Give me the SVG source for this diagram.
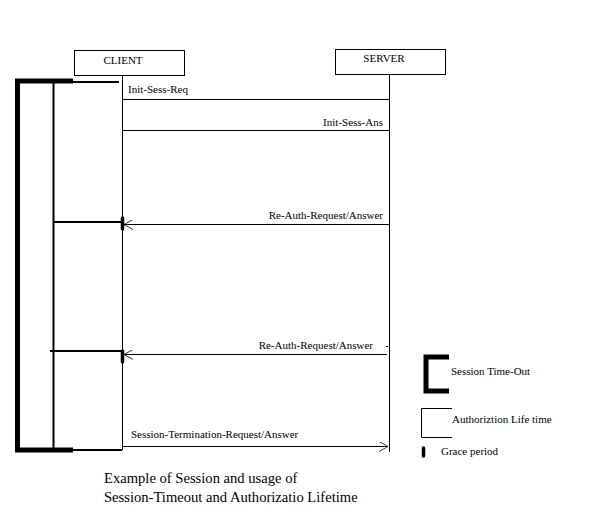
<svg xmlns="http://www.w3.org/2000/svg" width="591" height="531" viewBox="0 0 591 531">
<style>
.t{font-family:"Liberation Serif",serif;font-size:11px;fill:#000}
.cap{font-family:"Liberation Serif",serif;font-size:14.6px;fill:#000}
.box{fill:#fff;stroke:#000;stroke-width:1}
.ln{stroke:#000;stroke-width:1;fill:none}
.thick{stroke:#000;stroke-width:5;fill:none}
.med{stroke:#000;stroke-width:2;fill:none}
.grace{stroke:#000;stroke-width:3.5;stroke-linecap:round}
</style>
<defs>
<marker id="ah" markerWidth="10" markerHeight="10" refX="9" refY="5" orient="auto" markerUnits="userSpaceOnUse">
<path d="M0,0 L9,5 L0,10" fill="none" stroke="#000" stroke-width="0.8"/>
</marker>
</defs>
<rect width="591" height="531" fill="#fff"/>
<g id="client">
<rect class="box" x="74.5" y="50.5" width="110" height="25"/>
<text class="t" x="123" y="64" text-anchor="middle">CLIENT</text>
<line class="ln" x1="122.5" y1="75" x2="122.5" y2="450"/>
</g>
<g id="server">
<rect class="box" x="335.5" y="49.5" width="110" height="25"/>
<text class="t" x="384" y="62" text-anchor="middle">SERVER</text>
<line class="ln" x1="389.5" y1="74" x2="389.5" y2="452"/>
</g>
<g id="session-timeout">
<path class="thick" d="M73,81 L17.5,81 L17.5,450 L73,450"/>
<line class="med" x1="73" y1="82" x2="119" y2="82"/>
<line class="med" x1="73" y1="450" x2="122" y2="450"/>
</g>
<g id="auth-lifetime">
<line class="med" x1="53.5" y1="82" x2="53.5" y2="450"/>
<line class="med" x1="53" y1="222" x2="122" y2="222"/>
<line class="med" x1="50" y1="351" x2="122" y2="351"/>
<line class="grace" x1="122.5" y1="218" x2="122.5" y2="229"/>
<line class="grace" x1="122.5" y1="351" x2="122.5" y2="362"/>
</g>
<g id="connectors">
<line class="ln" x1="122" y1="99.5" x2="389" y2="99.5"/>
<text class="t" x="128" y="93">Init-Sess-Req</text>
<line class="ln" x1="122" y1="130.5" x2="389" y2="130.5"/>
<text class="t" x="383" y="126" text-anchor="end">Init-Sess-Ans</text>
<line class="ln" x1="389" y1="224.5" x2="124" y2="224.5" marker-end="url(#ah)"/>
<text class="t" x="383" y="219" text-anchor="end">Re-Auth-Request/Answer</text>
<line class="ln" x1="387" y1="354.5" x2="124" y2="354.5" marker-end="url(#ah)"/>
<line class="ln" x1="386" y1="346.5" x2="388" y2="346.5"/>
<text class="t" x="373" y="349" text-anchor="end">Re-Auth-Request/Answer</text>
<line class="ln" x1="122" y1="446.5" x2="388" y2="446.5" marker-end="url(#ah)"/>
<text class="t" x="131" y="438">Session-Termination-Request/Answer</text>
</g>
<g id="legend">
<path class="thick" d="M449,357 L426,357 L426,391 L449,391"/>
<text class="t" x="451" y="375">Session Time-Out</text>
<path class="ln" d="M452,408.5 L421.5,408.5 L421.5,437.5 L452,437.5"/>
<text class="t" x="452" y="423">Authoriztion Life time</text>
<line class="grace" x1="423.5" y1="448" x2="423.5" y2="456"/>
<text class="t" x="441" y="455">Grace period</text>
</g>
<g id="caption">
<text class="cap" x="104" y="483">Example of Session and usage of</text>
<text class="cap" x="104" y="502">Session-Timeout and Authorizatio Lifetime</text>
</g>
</svg>
